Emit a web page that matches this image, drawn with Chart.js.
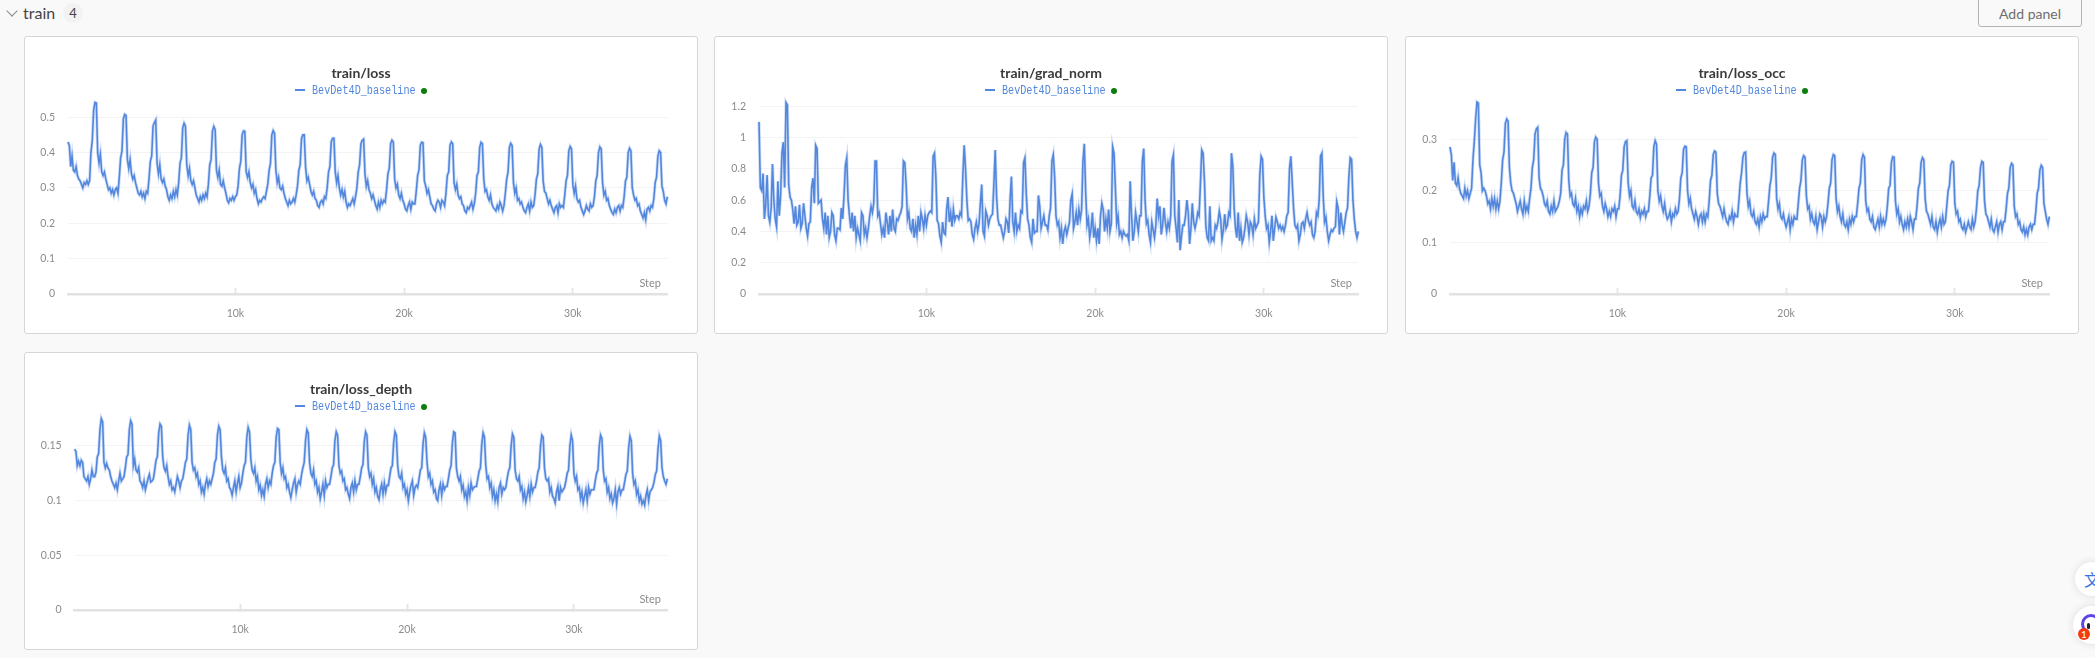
<!DOCTYPE html>
<html>
<head>
<meta charset="utf-8">
<title>train</title>
<script src="https://cdn.jsdelivr.net/npm/chart.js@4"></script>
<style>
  html,body{margin:0;padding:0;width:2095px;height:658px;overflow:hidden;background:#f9f9f9;font-family:Lato,sans-serif}
  .abs{position:absolute}
  .panel{position:absolute;box-sizing:border-box;width:674px;height:298px;background:#fff;border:1px solid #d6d6d6;border-radius:3px}
  .panel canvas{position:absolute;left:0;top:0}
  .lg-line{position:absolute;top:52px;left:calc(50% - 66px);width:10px;height:2px;background:#5387dd}
  .lg-text{position:absolute;top:46px;left:calc(50% - 49.5px);font:12px/16px "Liberation Mono",monospace;color:#5387dd;transform:scaleX(.846);transform-origin:left center;white-space:nowrap}
  .lg-dot{position:absolute;top:51px;left:calc(50% + 60px);width:6px;height:6px;border-radius:50%;background:#0a7d0a}
  #chevron{left:8px;top:7px;width:7px;height:7px;border-right:1px solid #8a8a8a;border-bottom:1px solid #8a8a8a;transform:rotate(45deg)}
  #secName{left:23px;top:3px;font-size:16px;line-height:20px;color:#444}
  #secCount{left:63px;top:3px;width:20px;height:20px;border-radius:50%;background:#f2f2f2;font-size:13px;line-height:20px;text-align:center;color:#444}
  #addPanel{left:1978px;top:-4px;width:104px;height:31px;box-sizing:border-box;border:1px solid #b4b4b4;border-radius:3px;font-size:14px;line-height:33px;text-align:center;color:#6e6e6e}
  .float{position:absolute;left:2075px;width:34px;height:34px;border-radius:50%;background:#fff;box-shadow:0 0 8px rgba(0,0,0,.12)}
  #fa{top:562px;font:16px/34px "Noto Sans CJK SC",sans-serif;color:#3b74e0;text-indent:9px}
  #fb{top:606px;height:38px;width:38px;left:2073px}
  #fbArc{position:absolute;left:8px;top:8px;width:20px;height:20px;box-sizing:border-box;border:3px solid #5b46e8;border-right-color:transparent;border-bottom-color:transparent;border-radius:50%}
  #fbEye{position:absolute;left:14px;top:17px;width:3px;height:6px;background:#222;border-radius:2px}
  #fbBadge{position:absolute;left:5px;top:22px;width:12px;height:12px;border-radius:50%;background:#f23c0f;color:#fff;font-size:10px;line-height:12px;text-align:center}
</style>
</head>
<body>
<div class="abs" id="chevron"></div>
<div class="abs" id="secName">train</div>
<div class="abs" id="secCount">4</div>
<div class="abs" id="addPanel">Add panel</div>
<div class="float" id="fa">文</div>
<div class="float" id="fb"><div id="fbArc"></div><div id="fbEye"></div><div id="fbBadge">1</div></div>

<script>
/* ---------- Data: one row per cycle, peak near the end of each row ---------- */
const runName = 'BevDet4D_baseline';
const xTickValues = [10000,20000,30000];

const steps = [
  80,160,240,320,400,480,560,640,720,800,880,960,1040,1120,1200,1280,1360,1440,1520,1600,1680,1760,
  1840,1920,2000,2080,2160,2240,2320,2400,2480,2560,2640,2720,2800,2880,2960,3040,3120,3200,3280,3360,3440,3520,
  3600,3680,3760,3840,3920,4000,4080,4160,4240,4320,4400,4480,4560,4640,4720,4800,4880,4960,5040,5120,5200,5280,
  5360,5440,5520,5600,5680,5760,5840,5920,6000,6080,6160,6240,6320,6400,6480,6560,6640,6720,6800,6880,6960,7040,
  7120,7200,7280,7360,7440,7520,7600,7680,7760,7840,7920,8000,8080,8160,8240,8320,8400,8480,8560,8640,8720,8800,
  8880,8960,9040,9120,9200,9280,9360,9440,9520,9600,9680,9760,9840,9920,10000,10080,10160,10240,10320,10400,10480,10560,
  10640,10720,10800,10880,10960,11040,11120,11200,11280,11360,11440,11520,11600,11680,11760,11840,11920,12000,12080,12160,12240,12320,
  12400,12480,12560,12640,12720,12800,12880,12960,13040,13120,13200,13280,13360,13440,13520,13600,13680,13760,13840,13920,14000,14080,
  14160,14240,14320,14400,14480,14560,14640,14720,14800,14880,14960,15040,15120,15200,15280,15360,15440,15520,15600,15680,15760,15840,
  15920,16000,16080,16160,16240,16320,16400,16480,16560,16640,16720,16800,16880,16960,17040,17120,17200,17280,17360,17440,17520,17600,
  17680,17760,17840,17920,18000,18080,18160,18240,18320,18400,18480,18560,18640,18720,18800,18880,18960,19040,19120,19200,19280,19360,
  19440,19520,19600,19680,19760,19840,19920,20000,20080,20160,20240,20320,20400,20480,20560,20640,20720,20800,20880,20960,21040,21120,
  21200,21280,21360,21440,21520,21600,21680,21760,21840,21920,22000,22080,22160,22240,22320,22400,22480,22560,22640,22720,22800,22880,
  22960,23040,23120,23200,23280,23360,23440,23520,23600,23680,23760,23840,23920,24000,24080,24160,24240,24320,24400,24480,24560,24640,
  24720,24800,24880,24960,25040,25120,25200,25280,25360,25440,25520,25600,25680,25760,25840,25920,26000,26080,26160,26240,26320,26400,
  26480,26560,26640,26720,26800,26880,26960,27040,27120,27200,27280,27360,27440,27520,27600,27680,27760,27840,27920,28000,28080,28160,
  28240,28320,28400,28480,28560,28640,28720,28800,28880,28960,29040,29120,29200,29280,29360,29440,29520,29600,29680,29760,29840,29920,
  30000,30080,30160,30240,30320,30400,30480,30560,30640,30720,30800,30880,30960,31040,31120,31200,31280,31360,31440,31520,31600,31680,
  31760,31840,31920,32000,32080,32160,32240,32320,32400,32480,32560,32640,32720,32800,32880,32960,33040,33120,33200,33280,33360,33440,
  33520,33600,33680,33760,33840,33920,34000,34080,34160,34240,34320,34400,34480,34560,34640,34720,34800,34880,34960,35040,35120,35200,
  35280,35360,35440,35520,35600,35680,35760
];

const lossValues = [
  .43,.42,.36,.39,.35,.345,.36,.335,.325,.32,.31,.30,.315,.31,.32,.31,.32,.40,.435,.52,.542,.54,
  .40,.37,.395,.345,.335,.345,.325,.31,.295,.30,.285,.295,.28,.295,.30,.285,.33,.385,.405,.495,.508,.505,
  .38,.355,.38,.34,.325,.335,.315,.30,.285,.28,.29,.275,.285,.27,.29,.285,.325,.375,.39,.475,.485,.492,
  .37,.34,.365,.325,.315,.325,.305,.295,.275,.265,.28,.27,.29,.275,.295,.28,.315,.37,.385,.47,.483,.475,
  .365,.335,.355,.32,.31,.32,.30,.28,.27,.26,.275,.265,.28,.27,.285,.275,.31,.365,.38,.46,.474,.465,
  .35,.33,.35,.31,.305,.32,.30,.285,.265,.258,.27,.265,.275,.265,.275,.28,.305,.355,.375,.45,.461,.46,
  .345,.33,.345,.315,.30,.31,.285,.295,.27,.255,.265,.26,.27,.275,.27,.29,.31,.35,.37,.45,.462,.455,
  .35,.315,.33,.30,.295,.305,.285,.27,.26,.25,.265,.255,.26,.27,.26,.28,.305,.35,.365,.44,.45,.45,
  .36,.32,.33,.31,.29,.28,.29,.27,.265,.25,.245,.26,.265,.255,.275,.27,.30,.345,.36,.43,.44,.44,
  .345,.315,.335,.30,.28,.295,.275,.29,.26,.245,.255,.25,.26,.27,.255,.275,.30,.345,.365,.425,.435,.438,
  .34,.305,.32,.295,.285,.27,.28,.265,.25,.24,.26,.245,.265,.255,.265,.26,.295,.34,.355,.425,.435,.43,
  .325,.30,.31,.28,.27,.285,.265,.255,.24,.235,.25,.26,.24,.26,.255,.255,.29,.335,.35,.42,.429,.428,
  .32,.305,.285,.295,.275,.255,.25,.24,.235,.255,.265,.26,.245,.265,.26,.25,.285,.335,.345,.42,.43,.425,
  .315,.295,.31,.28,.27,.275,.255,.25,.235,.23,.245,.24,.25,.26,.24,.255,.285,.335,.345,.415,.429,.425,
  .325,.29,.295,.275,.265,.28,.255,.245,.24,.235,.25,.24,.26,.25,.235,.25,.285,.325,.345,.415,.426,.42,
  .315,.285,.30,.265,.27,.255,.26,.245,.235,.23,.245,.255,.235,.26,.245,.25,.28,.325,.34,.41,.423,.415,
  .32,.29,.285,.27,.255,.265,.25,.24,.23,.245,.25,.23,.255,.245,.25,.245,.28,.32,.335,.405,.417,.41,
  .31,.285,.305,.27,.26,.265,.245,.235,.225,.235,.25,.24,.235,.255,.245,.25,.275,.32,.335,.40,.416,.41,
  .315,.28,.29,.265,.27,.25,.24,.23,.225,.24,.23,.245,.25,.235,.25,.245,.275,.32,.33,.40,.412,.405,
  .30,.28,.265,.27,.25,.255,.235,.225,.215,.23,.21,.24,.245,.235,.25,.245,.27,.315,.33,.39,.405,.40,
  .305,.29,.265,.255,.275,.26,.265
];

const gradNormValues = [
  1.10,.68,.66,.77,.48,.57,.76,.50,.46,.55,.83,.60,.48,.43,.72,.50,.63,.90,.97,.68,1.225,1.21,
  .70,.62,.60,.54,.45,.56,.44,.46,.57,.42,.45,.58,.50,.42,.37,.45,.46,.68,.74,.58,.95,.93,
  .58,.59,.60,.48,.42,.52,.38,.50,.36,.40,.52,.50,.38,.34,.42,.42,.41,.55,.48,.63,.82,.87,
  .60,.50,.42,.52,.40,.50,.36,.42,.38,.34,.52,.50,.38,.42,.36,.42,.50,.56,.52,.58,.85,.85,
  .50,.52,.45,.38,.42,.36,.52,.46,.38,.50,.40,.54,.42,.40,.48,.47,.50,.52,.56,.85,.84,.70,
  .48,.52,.42,.40,.48,.36,.44,.38,.50,.40,.52,.48,.42,.50,.44,.50,.52,.53,.52,.88,.90,.75,
  .47,.45,.37,.33,.46,.39,.38,.54,.62,.46,.52,.43,.54,.47,.50,.50,.48,.52,.50,.75,.95,.80,
  .60,.47,.48,.46,.38,.35,.42,.46,.40,.45,.58,.70,.40,.37,.53,.50,.44,.48,.50,.51,.70,.92,
  .62,.48,.44,.44,.40,.36,.40,.48,.46,.39,.60,.75,.46,.40,.52,.40,.44,.42,.53,.52,.84,.87,
  .64,.48,.44,.36,.33,.48,.39,.40,.40,.63,.56,.42,.46,.50,.44,.44,.41,.50,.55,.85,.89,.75,
  .50,.44,.46,.36,.42,.32,.40,.43,.38,.42,.46,.60,.64,.42,.46,.52,.44,.54,.48,.54,.85,.96,
  .65,.44,.48,.36,.42,.52,.36,.42,.34,.42,.32,.50,.58,.54,.40,.48,.42,.54,.40,.45,.94,.90,
  .68,.45,.50,.38,.40,.36,.40,.38,.37,.38,.34,.72,.50,.34,.40,.52,.46,.40,.50,.50,.85,.93,
  .60,.45,.47,.38,.33,.46,.41,.36,.44,.61,.50,.56,.38,.44,.55,.46,.40,.46,.42,.50,.85,.89,
  .50,.42,.33,.60,.28,.37,.44,.44,.50,.60,.52,.32,.42,.58,.46,.42,.46,.52,.50,.70,.92,.90,
  .72,.44,.36,.34,.56,.34,.36,.34,.44,.42,.46,.53,.48,.35,.41,.51,.42,.44,.52,.50,.90,.82,
  .55,.42,.36,.52,.34,.42,.33,.36,.42,.50,.46,.38,.46,.44,.38,.48,.42,.44,.46,.76,.88,.86,
  .62,.50,.42,.44,.33,.40,.50,.34,.42,.49,.46,.42,.44,.41,.43,.40,.44,.50,.52,.80,.88,.72,
  .55,.44,.42,.44,.34,.38,.45,.46,.42,.48,.52,.47,.44,.46,.38,.36,.40,.52,.50,.60,.88,.90,
  .62,.46,.49,.40,.34,.38,.41,.40,.42,.43,.59,.55,.38,.52,.44,.40,.46,.52,.55,.75,.87,.86,
  .60,.48,.40,.36,.40,.36,.37
];

const lossOccValues = [
  .285,.27,.22,.255,.215,.21,.225,.205,.195,.19,.185,.205,.19,.20,.185,.195,.205,.26,.295,.34,.372,.37,
  .25,.235,.20,.205,.20,.19,.175,.18,.165,.185,.17,.185,.165,.18,.165,.18,.215,.26,.275,.33,.339,.335,
  .245,.215,.20,.195,.185,.175,.16,.17,.18,.165,.155,.18,.16,.17,.16,.185,.205,.245,.26,.31,.32,.323,
  .225,.205,.20,.19,.175,.17,.18,.16,.155,.17,.16,.18,.16,.165,.17,.18,.195,.24,.25,.30,.313,.31,
  .22,.19,.195,.175,.17,.185,.16,.17,.15,.165,.155,.17,.165,.18,.16,.17,.195,.235,.245,.295,.304,.30,
  .215,.19,.195,.17,.16,.175,.165,.15,.16,.15,.165,.16,.17,.15,.165,.165,.19,.23,.24,.285,.295,.297,
  .215,.19,.20,.17,.165,.18,.16,.155,.165,.148,.16,.155,.165,.15,.16,.16,.19,.225,.23,.285,.297,.29,
  .20,.18,.19,.17,.16,.175,.155,.145,.15,.16,.14,.155,.15,.165,.155,.16,.185,.225,.235,.28,.286,.285,
  .20,.175,.185,.165,.155,.145,.16,.15,.135,.15,.155,.14,.155,.14,.155,.15,.18,.22,.23,.27,.277,.275,
  .195,.175,.17,.16,.15,.165,.15,.14,.135,.15,.145,.16,.14,.155,.15,.15,.18,.215,.235,.265,.274,.275,
  .195,.17,.18,.155,.15,.16,.14,.135,.145,.13,.15,.14,.155,.145,.15,.15,.18,.21,.225,.265,.273,.27,
  .185,.165,.175,.15,.145,.155,.14,.13,.14,.15,.125,.145,.135,.15,.145,.145,.175,.205,.22,.26,.268,.265,
  .19,.165,.17,.145,.155,.14,.135,.15,.125,.14,.155,.15,.13,.15,.14,.15,.175,.205,.215,.26,.27,.268,
  .185,.16,.17,.15,.14,.155,.135,.13,.14,.125,.145,.135,.15,.14,.15,.15,.175,.205,.215,.26,.27,.265,
  .18,.16,.165,.145,.14,.15,.13,.125,.135,.145,.13,.15,.135,.145,.135,.145,.17,.205,.21,.255,.266,.265,
  .18,.155,.165,.14,.15,.135,.125,.14,.13,.145,.13,.15,.14,.125,.145,.145,.17,.205,.215,.255,.264,.26,
  .185,.16,.155,.145,.135,.15,.13,.125,.14,.12,.135,.145,.13,.15,.135,.14,.17,.20,.21,.25,.257,.255,
  .175,.155,.16,.14,.145,.13,.125,.135,.12,.13,.14,.13,.125,.145,.13,.14,.165,.20,.21,.245,.257,.255,
  .18,.155,.15,.14,.13,.145,.125,.12,.13,.14,.12,.135,.14,.125,.14,.14,.165,.195,.205,.245,.253,.25,
  .17,.15,.155,.135,.14,.125,.12,.13,.115,.125,.115,.13,.135,.125,.135,.135,.16,.195,.205,.24,.249,.245,
  .175,.16,.145,.135,.15,.14,.145
];

const lossDepthValues = [
  .147,.145,.132,.136,.132,.137,.135,.122,.12,.118,.122,.115,.12,.128,.122,.122,.126,.14,.143,.165,.175,.172,
  .135,.13,.134,.13,.128,.122,.118,.115,.112,.116,.11,.118,.125,.118,.12,.122,.13,.14,.142,.165,.173,.17,
  .132,.138,.128,.126,.13,.118,.116,.112,.118,.11,.115,.12,.124,.117,.118,.12,.128,.137,.14,.162,.17,.168,
  .14,.13,.127,.132,.122,.115,.118,.11,.112,.108,.115,.122,.118,.112,.118,.12,.127,.135,.138,.16,.169,.165,
  .135,.128,.13,.122,.125,.115,.118,.108,.112,.106,.115,.12,.113,.118,.115,.12,.125,.135,.138,.16,.168,.165,
  .14,.128,.125,.13,.118,.12,.112,.11,.105,.112,.118,.108,.116,.122,.112,.116,.125,.132,.135,.158,.167,.163,
  .138,.128,.125,.13,.118,.122,.11,.114,.105,.11,.104,.115,.12,.112,.118,.115,.125,.132,.135,.158,.166,.165,
  .135,.125,.13,.12,.122,.112,.115,.108,.103,.11,.116,.12,.108,.115,.118,.115,.124,.13,.135,.155,.165,.162,
  .135,.125,.122,.128,.115,.118,.108,.112,.102,.108,.115,.105,.118,.112,.115,.115,.122,.13,.133,.155,.163,.16,
  .132,.125,.127,.118,.12,.11,.112,.106,.102,.112,.116,.108,.118,.11,.115,.115,.122,.13,.133,.154,.163,.16,
  .13,.122,.125,.115,.12,.108,.112,.104,.101,.11,.115,.106,.116,.108,.114,.114,.122,.13,.132,.153,.163,.16,
  .132,.122,.12,.125,.112,.115,.106,.11,.1,.108,.114,.118,.105,.112,.114,.112,.12,.128,.13,.152,.162,.158,
  .135,.122,.125,.115,.118,.108,.11,.102,.1,.11,.115,.105,.115,.11,.113,.113,.12,.128,.132,.153,.163,.162,
  .13,.122,.118,.122,.11,.114,.104,.108,.1,.112,.105,.116,.11,.112,.113,.113,.12,.127,.13,.152,.162,.158,
  .132,.12,.122,.112,.116,.104,.11,.1,.106,.099,.112,.116,.106,.112,.11,.112,.12,.127,.13,.15,.161,.158,
  .128,.12,.118,.122,.11,.113,.102,.108,.099,.105,.112,.104,.115,.108,.112,.112,.118,.126,.13,.15,.16,.158,
  .13,.12,.118,.12,.108,.112,.104,.102,.098,.108,.113,.1,.112,.108,.11,.112,.118,.125,.128,.15,.16,.155,
  .125,.118,.122,.11,.112,.102,.108,.098,.104,.11,.1,.112,.106,.11,.11,.11,.118,.125,.128,.15,.16,.157,
  .128,.118,.12,.108,.112,.102,.106,.098,.102,.11,.097,.108,.112,.106,.11,.11,.117,.124,.127,.148,.159,.155,
  .125,.115,.118,.106,.11,.1,.104,.097,.1,.096,.105,.11,.1,.108,.11,.112,.117,.124,.127,.147,.159,.155,
  .13,.122,.118,.115,.12,.116,.118
];

const lossTicks = [0,.1,.2,.3,.4,.5];
const gradNormTicks = [0,.2,.4,.6,.8,1,1.2];
const lossOccTicks = [0,.1,.2,.3];
const lossDepthTicks = [0,.05,.1,.15];

/* ---------- Panels ---------- */
const LINE_COLOR = '#5387dd';
const HALO_COLOR = 'rgba(83,135,221,.28)';
const TICK_COLOR = '#8b8b8b';
const TICK_FONT = {family:'Lato', size:10.5};

// recentres the title on the whole panel and draws the "Step" caption above the x axis
const panelExtras = {
  id:'panelExtras',
  afterLayout(chart){
    chart.titleBlock.left = 0;
    chart.titleBlock.right = chart.width;
  },
  afterDraw(chart){
    const {ctx, chartArea} = chart;
    ctx.save();
    ctx.font = '11px Lato';
    ctx.fillStyle = TICK_COLOR;
    ctx.textAlign = 'right';
    ctx.fillText('Step', chartArea.right-6, chartArea.bottom-7);
    ctx.restore();
  }
};

function addPanel(title, left, top, yAxisWidth, rightPad, yMax, values, yTicks){
  const panel = document.createElement('div');
  panel.className = 'panel';
  panel.style.left = left+'px';
  panel.style.top = top+'px';
  panel.innerHTML = `<canvas width="672" height="296"></canvas>
    <div class="lg-line"></div><div class="lg-text">${runName}</div><div class="lg-dot"></div>`;
  document.body.appendChild(panel);

  const points = steps.map((s,i)=>({x:s, y:values[i]}));
  new Chart(panel.querySelector('canvas'), {
    type:'line',
    data:{datasets:[
      {data:points, borderColor:LINE_COLOR, borderWidth:1.6, pointRadius:0, tension:0, clip:false, order:1},
      {data:points, borderColor:HALO_COLOR, borderWidth:3.2, pointRadius:0, tension:0, clip:false, order:2}
    ]},
    options:{
      responsive:false,
      animation:false,
      layout:{padding:{right:rightPad}},
      plugins:{
        legend:{display:false},
        tooltip:{enabled:false},
        title:{
          display:true, text:title, color:'#3a3a3a',
          font:{family:'Lato', size:14, weight:'700'},
          padding:{top:28, bottom:20.2}
        }
      },
      scales:{
        x:{
          type:'linear', min:80, max:35580,
          afterBuildTicks:s=>{ s.ticks = xTickValues.map(v=>({value:v})); },
          afterFit:s=>{ s.height = 39; },
          border:{color:'#e2e2e2', width:2.5},
          grid:{drawOnChartArea:false, tickLength:-6, tickWidth:2, tickColor:'#e6e6e6'},
          ticks:{padding:19, color:TICK_COLOR, font:TICK_FONT, maxRotation:0,
                 callback:v=>(v/1000)+'k'}
        },
        y:{
          min:0, max:yMax,
          afterBuildTicks:s=>{ s.ticks = yTicks.map(v=>({value:v})); },
          afterFit:s=>{ s.width = yAxisWidth; },
          border:{display:false},
          grid:{color:'#f3f3f3', drawTicks:false},
          ticks:{padding:13, color:TICK_COLOR, font:TICK_FONT, callback:v=>String(v)}
        }
      }
    },
    plugins:[panelExtras]
  });
}

addPanel('train/loss',       24,   36,  43, 30, .543,  lossValues,      lossTicks);
addPanel('train/grad_norm',  714,  36,  44, 29, 1.227, gradNormValues,  gradNormTicks);
addPanel('train/loss_occ',   1405, 36,  44, 29, .372,  lossOccValues,   lossOccTicks);
addPanel('train/loss_depth', 24,   351.5, 49.6, 30, .1756, lossDepthValues, lossDepthTicks);
</script>
</body>
</html>
